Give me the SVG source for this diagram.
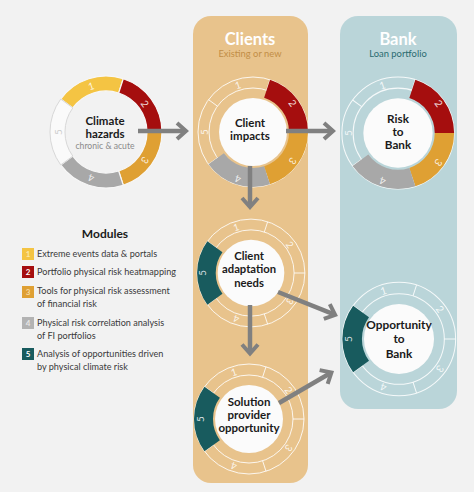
<svg xmlns="http://www.w3.org/2000/svg" xmlns:xlink="http://www.w3.org/1999/xlink" width="474" height="492" viewBox="0 0 474 492">
<style>
.t{font-family:Lato,"Liberation Sans",Arial,sans-serif;}
.lbl{font-family:Lato,"Liberation Sans",Arial,sans-serif;font-weight:bold;fill:#1a1a1a;text-anchor:middle;font-size:11.5px;}
.num{font-family:Lato,"Liberation Sans",Arial,sans-serif;font-size:10px;fill:#ffffff;fill-opacity:0.85;text-anchor:middle;dominant-baseline:central;}
.leg{font-family:Lato,"Liberation Sans",Arial,sans-serif;font-size:9.1px;fill:#3a3a3a;}
.lnum{font-family:Lato,"Liberation Sans",Arial,sans-serif;font-size:8px;font-weight:bold;fill:#ffffff;text-anchor:middle;}
.arrow{fill:none;stroke:#808080;stroke-width:4.5;marker-end:url(#ah);}
.ol{fill:none;stroke:#ffffff;stroke-opacity:0.85;stroke-width:1;}
.c1{fill:#f4c443;}.c2{fill:#a50e0e;}.c3{fill:#dfa033;}.c4{fill:#a8a8a8;}.c5{fill:#185b5e;}
</style>
<defs>
<marker id="ah" markerUnits="userSpaceOnUse" viewBox="0 0 14 20" refX="10.5" refY="10" markerWidth="14" markerHeight="20" orient="auto">
<path d="M2,2 L11,10 L2,18" fill="none" stroke="#808080" stroke-width="4"/>
</marker>
<path id="s1" d="M-44.5,-32.34 A55,55 0 0 1 17,-52.31 L11.12,-34.24 A36,36 0 0 0 -29.12,-21.17 Z"/>
<path id="s2" d="M17,-52.31 A55,55 0 0 1 55,0 L36,0 A36,36 0 0 0 11.12,-34.24 Z"/>
<path id="s3" d="M55,0 A55,55 0 0 1 17,52.31 L11.12,34.24 A36,36 0 0 0 36,0 Z"/>
<path id="s4" d="M17,52.31 A55,55 0 0 1 -44.5,32.34 L-29.12,21.17 A36,36 0 0 0 11.12,34.24 Z"/>
<path id="s5" d="M-44.5,32.34 A55,55 0 0 1 -44.5,-32.34 L-29.12,-21.17 A36,36 0 0 0 -29.12,21.17 Z"/>
<g id="ringBase">
<circle r="55" class="ol"/>
<circle r="44" class="ol"/>
<path class="ol" d="M-35.6,-25.87 L-44.5,-32.34 M13.6,-41.84 L17,-52.31 M44,0 L55,0 M13.6,41.84 L17,52.31 M-35.6,25.87 L-44.5,32.34"/>
</g>
<g id="nums">
<text class="num" transform="translate(-15.3,-47.08) rotate(-18)">1</text>
<text class="num" transform="translate(40.05,-29.1) rotate(54)">2</text>
<text class="num" transform="translate(40.05,29.1) rotate(126)">3</text>
<text class="num" transform="translate(-15.3,47.08) rotate(198)">4</text>
<text class="num" transform="translate(-49.5,0) rotate(270)">5</text>
</g>
<circle id="core" r="34" fill="#fbfbfb"/>
</defs>
<rect x="0" y="0" width="474" height="492" fill="#f2f2f2"/>

<g id="clients-panel">
<rect x="193" y="16" width="115" height="467" rx="18" fill="#e8c38c"/>
<text class="t" x="250" y="45" text-anchor="middle" font-size="16.5px" font-weight="bold" fill="#ffffff">Clients</text>
<text class="t" x="250" y="57" text-anchor="middle" font-size="9.4px" fill="#c28e46">Existing or new</text>
</g>
<g id="bank-panel">
<rect x="340" y="16" width="117" height="393" rx="18" fill="#bad5d9"/>
<text class="t" x="398" y="45" text-anchor="middle" font-size="16.5px" font-weight="bold" fill="#ffffff">Bank</text>
<text class="t" x="398" y="57" text-anchor="middle" font-size="9.4px" fill="#2a6b70">Loan portfolio</text>
</g>

<g id="climate-hazards" transform="translate(106,132)">
<g stroke="#f7f7f7" stroke-width="1.2">
<path class="c1" d="M-45.3,-32.93 A56,56 0 0 1 17.3,-53.26 L12.67,-38.99 A41,41 0 0 0 -33.17,-24.11 Z"/>
<path class="c2" d="M17.3,-53.26 A56,56 0 0 1 56,0 L41,0 A41,41 0 0 0 12.67,-38.99 Z"/>
<path class="c3" d="M56,0 A56,56 0 0 1 17.3,53.26 L12.67,38.99 A41,41 0 0 0 41,0 Z"/>
<path class="c4" d="M17.3,53.26 A56,56 0 0 1 -45.3,32.93 L-33.17,24.11 A41,41 0 0 0 12.67,38.99 Z"/>
</g>
<path fill="#fafafa" stroke="#d8d8d8" stroke-width="1" d="M-45.3,32.93 A56,56 0 0 1 -45.3,-32.93 L-33.17,-24.11 A41,41 0 0 0 -33.17,24.11 Z"/>
<text class="num" transform="translate(-14.99,-46.12) rotate(-18)">1</text>
<text class="num" transform="translate(39.24,-28.52) rotate(54)">2</text>
<text class="num" transform="translate(39.24,28.52) rotate(126)">3</text>
<text class="num" transform="translate(-14.99,46.12) rotate(198)">4</text>
<text class="num" transform="translate(-48.5,0) rotate(270)" style="fill:#c4c4c4">5</text>
<text class="lbl" x="-1" y="-7" font-size="12px">Climate</text>
<text class="lbl" x="-1" y="6" font-size="12px">hazards</text>
<text class="t" x="-1" y="17" text-anchor="middle" font-size="8.6px" fill="#8a8a8a">chronic &amp; acute</text>
</g>

<g id="client-impacts" transform="translate(253,132)">
<use xlink:href="#ringBase"/>
<use xlink:href="#s2" class="c2"/>
<use xlink:href="#s3" class="c3"/>
<use xlink:href="#s4" class="c4"/>
<use xlink:href="#nums"/>
<use xlink:href="#core"/>
<text class="lbl" x="-3" y="-5">Client</text>
<text class="lbl" x="-3" y="8">impacts</text>
</g>

<g id="risk-to-bank" transform="translate(398,133) scale(1.02)">
<use xlink:href="#ringBase"/>
<use xlink:href="#s2" class="c2"/>
<use xlink:href="#s3" class="c3"/>
<use xlink:href="#s4" class="c4"/>
<use xlink:href="#nums"/>
<use xlink:href="#core"/>
<text class="lbl" x="0" y="-10">Risk</text>
<text class="lbl" x="0" y="3">to</text>
<text class="lbl" x="0" y="16">Bank</text>
</g>

<g id="client-adaptation" transform="translate(251,273) scale(0.98)">
<use xlink:href="#ringBase"/>
<use xlink:href="#s5" class="c5"/>
<use xlink:href="#nums"/>
<use xlink:href="#core"/>
<text class="lbl" x="-2" y="-13">Client</text>
<text class="lbl" x="-2" y="0">adaptation</text>
<text class="lbl" x="-2" y="14">needs</text>
</g>

<g id="solution-provider" transform="translate(249,419)">
<use xlink:href="#ringBase"/>
<use xlink:href="#s5" class="c5"/>
<use xlink:href="#nums"/>
<use xlink:href="#core"/>
<text class="lbl" x="0" y="-13" font-size="10.8px">Solution</text>
<text class="lbl" x="0" y="0" font-size="10.8px">provider</text>
<text class="lbl" x="0" y="13" font-size="10.8px">opportunity</text>
</g>

<g id="opportunity-to-bank" transform="translate(399,339) scale(1.03)">
<use xlink:href="#ringBase"/>
<use xlink:href="#s5" class="c5"/>
<use xlink:href="#nums"/>
<use xlink:href="#core"/>
<text class="lbl" x="0" y="-10" font-size="10.6px">Opportunity</text>
<text class="lbl" x="0" y="4" font-size="10.6px">to</text>
<text class="lbl" x="0" y="18" font-size="10.6px">Bank</text>
</g>

<g id="modules-legend">
<text class="t" x="105" y="238" text-anchor="middle" font-size="12px" font-weight="bold" fill="#1a1a1a">Modules</text>
<rect x="22" y="248" width="12" height="12" class="c1"/>
<text class="lnum" x="28" y="257" style="fill:#fbe7a8">1</text>
<text class="leg" x="37" y="257">Extreme events data &amp; portals</text>
<rect x="22" y="266" width="12" height="12" class="c2"/>
<text class="lnum" x="28" y="275">2</text>
<text class="leg" x="37" y="275">Portfolio physical risk heatmapping</text>
<rect x="22" y="286" width="12" height="12" class="c3"/>
<text class="lnum" x="28" y="295" style="fill:#f6d9a0">3</text>
<text class="leg" x="37" y="294">Tools for physical risk assessment</text>
<text class="leg" x="37" y="307">of financial risk</text>
<rect x="22" y="317" width="12" height="12" fill="#b3b3b3"/>
<text class="lnum" x="28" y="326" style="fill:#e6e6e6">4</text>
<text class="leg" x="37" y="326">Physical risk correlation analysis</text>
<text class="leg" x="37" y="339">of FI portfolios</text>
<rect x="22" y="348" width="12" height="12" class="c5"/>
<text class="lnum" x="28" y="357">5</text>
<text class="leg" x="37" y="357">Analysis of opportunities driven</text>
<text class="leg" x="37" y="370">by physical climate risk</text>
</g>

<g id="connectors">
<path class="arrow" d="M138,131 L185.5,131"/>
<path class="arrow" d="M286,131 L332.5,131"/>
<path class="arrow" d="M250,166 L250,206.5"/>
<path class="arrow" d="M250,305 L250,353"/>
<path class="arrow" d="M278,292 L334.7,314.7"/>
<path class="arrow" d="M279,403 L331,372.8"/>
</g>
</svg>
